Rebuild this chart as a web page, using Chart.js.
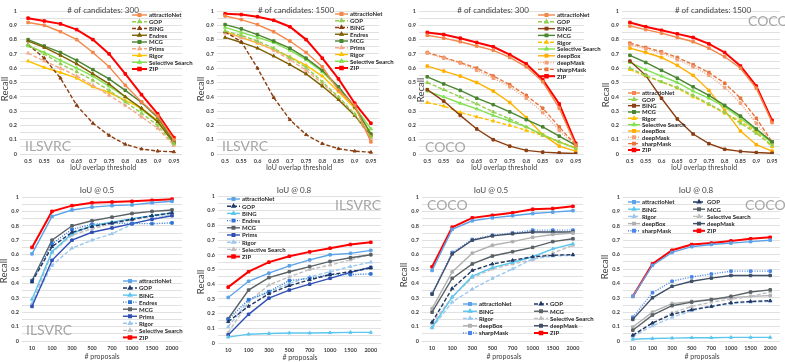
<!DOCTYPE html>
<html>
<head>
<meta charset="utf-8">
<script src="https://cdn.jsdelivr.net/npm/chart.js@4"></script>
<style>
html, body { margin: 0; padding: 0; background: #fff; }
#wrap { position: relative; width: 785px; height: 362px; overflow: hidden; }
#wrap canvas { position: absolute; left: 0; top: 0; }
</style>
</head>
<body>
<div id="wrap"></div>
<script>
// Categories
const iouThresholds = ['0.5', '0.55', '0.6', '0.65', '0.7', '0.75', '0.8', '0.85', '0.9', '0.95'];
const proposalCounts = ['10', '100', '300', '500', '700', '1000', '1500', '2000'];

// Series names (legend order)
const ilsNames = ['attractioNet', 'GOP', 'BING', 'Endres', 'MCG', 'Prims', 'Rigor', 'Selective Search', 'ZIP'];
const cocoNames = ['attractioNet', 'GOP', 'BING', 'MCG', 'Rigor', 'Selective Search', 'deepBox', 'deepMask', 'sharpMask', 'ZIP'];

// ILSVRC, recall vs IoU, 300 candidates
const ils300 = [
    [0.92, 0.90, 0.855, 0.80, 0.71, 0.61, 0.48, 0.365, 0.265, 0.10],
    [0.765, 0.70, 0.63, 0.575, 0.515, 0.445, 0.365, 0.285, 0.20, 0.07],
    [0.765, 0.67, 0.53, 0.34, 0.215, 0.13, 0.068, 0.035, 0.02, 0.015],
    [0.79, 0.745, 0.69, 0.63, 0.56, 0.49, 0.40, 0.32, 0.225, 0.075],
    [0.80, 0.755, 0.71, 0.655, 0.59, 0.525, 0.445, 0.36, 0.255, 0.085],
    [0.705, 0.65, 0.60, 0.545, 0.48, 0.41, 0.34, 0.26, 0.18, 0.06],
    [0.65, 0.605, 0.57, 0.53, 0.47, 0.43, 0.375, 0.32, 0.235, 0.085],
    [0.755, 0.71, 0.655, 0.60, 0.545, 0.475, 0.40, 0.31, 0.225, 0.095],
    [0.95, 0.93, 0.91, 0.87, 0.80, 0.70, 0.56, 0.415, 0.28, 0.115]
];
// ILSVRC, recall vs IoU, 1500 candidates
const ils1500 = [
    [0.965, 0.94, 0.905, 0.855, 0.79, 0.71, 0.61, 0.445, 0.34, 0.085],
    [0.86, 0.83, 0.79, 0.74, 0.675, 0.605, 0.505, 0.40, 0.28, 0.12],
    [0.855, 0.785, 0.60, 0.395, 0.24, 0.135, 0.072, 0.037, 0.02, 0.012],
    [0.815, 0.78, 0.74, 0.685, 0.625, 0.56, 0.475, 0.38, 0.27, 0.13],
    [0.905, 0.875, 0.835, 0.79, 0.74, 0.67, 0.585, 0.47, 0.33, 0.14],
    [0.845, 0.815, 0.78, 0.725, 0.66, 0.585, 0.495, 0.39, 0.27, 0.11],
    [0.855, 0.815, 0.775, 0.73, 0.68, 0.62, 0.545, 0.435, 0.32, 0.14],
    [0.885, 0.85, 0.815, 0.78, 0.725, 0.66, 0.575, 0.46, 0.33, 0.175],
    [0.98, 0.975, 0.96, 0.935, 0.89, 0.80, 0.67, 0.525, 0.355, 0.215]
];
// COCO, recall vs IoU, 300 candidates
const coco300 = [
    [0.83, 0.81, 0.785, 0.755, 0.725, 0.675, 0.61, 0.505, 0.32, 0.06],
    [0.50, 0.45, 0.40, 0.35, 0.295, 0.245, 0.19, 0.13, 0.085, 0.04],
    [0.45, 0.37, 0.27, 0.175, 0.10, 0.055, 0.025, 0.013, 0.007, 0.003],
    [0.54, 0.49, 0.445, 0.39, 0.345, 0.295, 0.24, 0.19, 0.125, 0.06],
    [0.36, 0.335, 0.29, 0.26, 0.23, 0.20, 0.165, 0.13, 0.085, 0.045],
    [0.44, 0.40, 0.355, 0.315, 0.27, 0.23, 0.19, 0.135, 0.085, 0.04],
    [0.615, 0.58, 0.545, 0.50, 0.44, 0.36, 0.255, 0.135, 0.055, 0.02],
    [0.705, 0.67, 0.635, 0.585, 0.53, 0.47, 0.39, 0.29, 0.165, 0.05],
    [0.71, 0.675, 0.64, 0.60, 0.545, 0.485, 0.41, 0.32, 0.19, 0.06],
    [0.85, 0.835, 0.81, 0.78, 0.75, 0.695, 0.63, 0.52, 0.35, 0.075]
];
// COCO, recall vs IoU, 1500 candidates
const coco1500 = [
    [0.895, 0.87, 0.845, 0.815, 0.785, 0.74, 0.68, 0.60, 0.46, 0.22],
    [0.60, 0.55, 0.505, 0.465, 0.41, 0.35, 0.29, 0.215, 0.145, 0.06],
    [0.65, 0.55, 0.39, 0.245, 0.14, 0.072, 0.033, 0.018, 0.01, 0.005],
    [0.69, 0.64, 0.585, 0.53, 0.47, 0.41, 0.34, 0.265, 0.175, 0.085],
    [0.59, 0.545, 0.505, 0.46, 0.40, 0.345, 0.285, 0.23, 0.155, 0.05],
    [0.64, 0.59, 0.545, 0.50, 0.44, 0.39, 0.33, 0.25, 0.165, 0.075],
    [0.74, 0.71, 0.675, 0.62, 0.55, 0.445, 0.305, 0.16, 0.065, 0.02],
    [0.765, 0.735, 0.705, 0.66, 0.61, 0.55, 0.465, 0.355, 0.215, 0.075],
    [0.775, 0.745, 0.715, 0.675, 0.625, 0.57, 0.495, 0.39, 0.25, 0.085],
    [0.92, 0.89, 0.865, 0.84, 0.815, 0.77, 0.71, 0.615, 0.475, 0.235]
];
// ILSVRC, recall vs # proposals, IoU 0.5
const ilsIou05 = [
    [0.605, 0.865, 0.91, 0.93, 0.94, 0.945, 0.96, 0.97],
    [0.41, 0.655, 0.755, 0.795, 0.82, 0.845, 0.87, 0.89],
    [0.29, 0.62, 0.745, 0.80, 0.825, 0.85, 0.87, 0.89],
    [0.415, 0.675, 0.775, 0.81, 0.82, 0.815, 0.815, 0.82],
    [0.42, 0.70, 0.80, 0.835, 0.86, 0.885, 0.90, 0.91],
    [0.24, 0.56, 0.70, 0.755, 0.785, 0.815, 0.845, 0.87],
    [0.26, 0.525, 0.645, 0.70, 0.745, 0.81, 0.85, 0.875],
    [0.255, 0.615, 0.735, 0.78, 0.815, 0.84, 0.865, 0.885],
    [0.65, 0.90, 0.94, 0.96, 0.965, 0.97, 0.977, 0.985]
];
// ILSVRC, recall vs # proposals, IoU 0.8
const ilsIou08 = [
    [0.31, 0.42, 0.475, 0.525, 0.565, 0.60, 0.61, 0.63],
    [0.145, 0.25, 0.335, 0.39, 0.43, 0.465, 0.485, 0.51],
    [0.04, 0.06, 0.065, 0.068, 0.068, 0.07, 0.072, 0.072],
    [0.16, 0.295, 0.35, 0.425, 0.44, 0.465, 0.465, 0.47],
    [0.165, 0.36, 0.445, 0.485, 0.52, 0.555, 0.58, 0.60],
    [0.055, 0.195, 0.305, 0.36, 0.40, 0.44, 0.48, 0.515],
    [0.11, 0.29, 0.345, 0.405, 0.45, 0.485, 0.52, 0.55],
    [0.07, 0.28, 0.395, 0.45, 0.50, 0.53, 0.565, 0.605],
    [0.38, 0.485, 0.55, 0.59, 0.62, 0.645, 0.67, 0.685]
];
// COCO, recall vs # proposals, IoU 0.5
const cocoIou05 = [
    [0.49, 0.775, 0.835, 0.855, 0.87, 0.885, 0.895, 0.905],
    [0.13, 0.365, 0.49, 0.535, 0.56, 0.585, 0.595, 0.60],
    [0.095, 0.305, 0.45, 0.51, 0.545, 0.585, 0.64, 0.675],
    [0.20, 0.435, 0.535, 0.59, 0.62, 0.65, 0.69, 0.71],
    [0.09, 0.27, 0.36, 0.435, 0.50, 0.57, 0.59, 0.595],
    [0.12, 0.305, 0.44, 0.50, 0.535, 0.565, 0.61, 0.665],
    [0.225, 0.48, 0.61, 0.665, 0.69, 0.72, 0.74, 0.75],
    [0.325, 0.605, 0.70, 0.73, 0.745, 0.757, 0.757, 0.757],
    [0.33, 0.615, 0.705, 0.735, 0.75, 0.77, 0.77, 0.77],
    [0.515, 0.79, 0.855, 0.873, 0.89, 0.915, 0.92, 0.935]
];
// COCO, recall vs # proposals, IoU 0.8
const cocoIou08 = [
    [0.31, 0.525, 0.615, 0.655, 0.67, 0.68, 0.69, 0.70],
    [0.04, 0.125, 0.185, 0.217, 0.24, 0.265, 0.275, 0.28],
    [0.012, 0.017, 0.02, 0.023, 0.023, 0.025, 0.025, 0.025],
    [0.075, 0.18, 0.245, 0.27, 0.287, 0.31, 0.34, 0.355],
    [0.03, 0.105, 0.165, 0.21, 0.24, 0.26, 0.27, 0.275],
    [0.04, 0.125, 0.195, 0.24, 0.27, 0.29, 0.31, 0.34],
    [0.097, 0.20, 0.26, 0.275, 0.29, 0.30, 0.31, 0.315],
    [0.15, 0.30, 0.38, 0.415, 0.437, 0.455, 0.455, 0.455],
    [0.165, 0.335, 0.415, 0.445, 0.465, 0.485, 0.485, 0.485],
    [0.31, 0.535, 0.63, 0.67, 0.68, 0.695, 0.71, 0.72]
];

// Line styles: [colour, dash, point style]
const DASH = [4, 2];
const DOT = [1, 1.5];
const warmIls = {
    'attractioNet': ['#F4874B', [], 'rect'],
    'GOP': ['#92D050', DASH, 'triangle'],
    'BING': ['#8B3E12', DASH, 'triangle'],
    'Endres': ['#7F6000', [], 'triangle'],
    'MCG': ['#4A8530', [], 'rect'],
    'Prims': ['#F6A98A', DASH, 'triangle'],
    'Rigor': ['#FFC000', [], 'triangle'],
    'Selective Search': ['#80E24E', [], 'triangle'],
    'ZIP': ['#FF0000', [], 'rect']
};
const warmCoco = {
    'attractioNet': ['#F4874B', [], 'rect'],
    'GOP': ['#92D050', DASH, 'triangle'],
    'BING': ['#8B3E12', [], 'rect'],
    'MCG': ['#4A8530', [], 'rect'],
    'Rigor': ['#FFC000', DASH, 'triangle'],
    'Selective Search': ['#80E24E', [], 'triangle'],
    'deepBox': ['#FFB000', [], 'rect'],
    'deepMask': ['#F4A07A', DOT, 'rect'],
    'sharpMask': ['#E8743B', DASH, 'rect'],
    'ZIP': ['#FF0000', [], 'rect']
};
const coolIls = {
    'attractioNet': ['#5BA3E8', [], 'rect'],
    'GOP': ['#203864', DASH, 'triangle'],
    'BING': ['#5CC6EE', [], 'triangle'],
    'Endres': ['#2E75D6', DOT, 'rect'],
    'MCG': ['#5A6266', [], 'rect'],
    'Prims': ['#2F4FB4', [], 'rect'],
    'Rigor': ['#9DC8EE', DASH, 'triangle'],
    'Selective Search': ['#BFBFBF', DASH, 'triangle'],
    'ZIP': ['#FF0000', [], 'rect']
};
const coolCoco = {
    'attractioNet': ['#5BA3E8', [], 'rect'],
    'GOP': ['#203864', DASH, 'triangle'],
    'BING': ['#5CC6EE', [], 'triangle'],
    'MCG': ['#5A6266', [], 'rect'],
    'Rigor': ['#9DC8EE', DASH, 'triangle'],
    'Selective Search': ['#BFBFBF', DASH, 'triangle'],
    'deepBox': ['#B0B0B0', [], 'rect'],
    'deepMask': ['#3F4F66', [], 'rect'],
    'sharpMask': ['#4A86E8', DOT, 'rect'],
    'ZIP': ['#FF0000', [], 'rect']
};

const FONT = 'Lato, "Open Sans", sans-serif';
const TEXT = '#404040';
const Y_AXIS_W = 18;
const X_AXIS_H = 14;

// Panel layout (page coordinates)
const panels = [
    { labels: iouThresholds, names: ilsNames, values: ils300, style: warmIls, area: [20, 11, 182, 154],
      title: ['# of candidates: 300', 103, 10], xTitle: ['IoU overlap threshold', 103, 168], yTitle: [5, 89],
      mark: ['ILSVRC', 25, 146], legend: { x: 132, y: 15, step: 6.75, w: 15, cols: 1, colW: 0 } },
    { labels: iouThresholds, names: ilsNames, values: ils1500, style: warmIls, area: [217, 11, 379, 154],
      title: ['# of candidates: 1500', 296, 10], xTitle: ['IoU overlap threshold', 299, 168], yTitle: [201, 89],
      mark: ['ILSVRC', 222, 146], legend: { x: 335, y: 14, step: 6.75, w: 13, cols: 1, colW: 0 } },
    { labels: iouThresholds, names: cocoNames, values: coco300, style: warmCoco, area: [419, 11, 584, 154],
      title: ['# of candidates: 300', 493, 10], xTitle: ['IoU overlap threshold', 504, 168], yTitle: [421, 90],
      mark: ['COCO', 425, 147], legend: { x: 538, y: 15, step: 6.8, w: 17, cols: 1, colW: 0 } },
    { labels: iouThresholds, names: cocoNames, values: coco1500, style: warmCoco, area: [622, 11, 782, 154],
      title: ['# of candidates: 1500', 713, 10], xTitle: ['IoU overlap threshold', 704, 168], yTitle: [606, 95],
      mark: ['COCO', 748, 21], legend: { x: 628, y: 93, step: 6.33, w: 12, cols: 1, colW: 0 } },
    { labels: proposalCounts, names: ilsNames, values: ilsIou05, style: coolIls, area: [22, 197, 182, 341],
      title: ['IoU @ 0.5', 97, 190], xTitle: ['# proposals', 102, 357], yTitle: [4, 271],
      mark: ['ILSVRC', 26, 330], legend: { x: 123, y: 281, step: 7.05, w: 14, cols: 1, colW: 0 } },
    { labels: proposalCounts, names: ilsNames, values: ilsIou08, style: coolIls, area: [218, 196, 381, 343],
      title: ['IoU @ 0.8', 294, 190], xTitle: ['# proposals', 300, 358], yTitle: [201, 282],
      mark: ['ILSVRC', 335, 205], legend: { x: 227, y: 199, step: 7.2, w: 13, cols: 1, colW: 0 } },
    { labels: proposalCounts, names: cocoNames, values: cocoIou05, style: coolCoco, area: [422, 197, 583, 341],
      title: ['IoU @ 0.5', 491, 190], xTitle: ['# proposals', 504, 357], yTitle: [404, 275],
      mark: ['COCO', 427, 205], legend: { x: 463, y: 304, step: 7.25, w: 14, cols: 2, colW: 71 } },
    { labels: proposalCounts, names: cocoNames, values: cocoIou08, style: coolCoco, area: [623, 197, 783, 341],
      title: ['IoU @ 0.8', 696, 190], xTitle: ['# proposals', 702, 357], yTitle: [605, 267],
      mark: ['COCO', 745, 205], legend: { x: 628, y: 202, step: 7.2, w: 12, cols: 2, colW: 65 } }
];

// Titles, watermark and in-plot legend
function decorPlugin(p) {
    return {
        id: 'decor',
        afterDraw(chart) {
            const ctx = chart.ctx;
            ctx.save();
            ctx.fillStyle = TEXT;
            ctx.textAlign = 'center';
            ctx.textBaseline = 'middle';
            ctx.font = '8px ' + FONT;
            ctx.fillText(p.title[0], p.title[1], p.title[2]);
            ctx.font = '7px ' + FONT;
            ctx.fillText(p.xTitle[0], p.xTitle[1], p.xTitle[2]);

            ctx.save();
            ctx.translate(p.yTitle[0], p.yTitle[1]);
            ctx.rotate(-Math.PI / 2);
            ctx.font = '9.5px ' + FONT;
            ctx.fillText('Recall', 0, 0);
            ctx.restore();

            ctx.textAlign = 'left';
            ctx.fillStyle = '#A6A6A6';
            ctx.font = '14px ' + FONT;
            ctx.fillText(p.mark[0], p.mark[1], p.mark[2]);

            const lg = p.legend;
            ctx.font = 'bold 6px ' + FONT;
            chart.data.datasets.forEach((ds, i) => {
                const col = i % lg.cols;
                const row = Math.floor(i / lg.cols);
                const x0 = lg.x + col * lg.colW;
                const y = lg.y + row * lg.step;
                ctx.strokeStyle = ds.borderColor;
                ctx.fillStyle = ds.borderColor;
                ctx.lineWidth = ds.borderWidth;
                ctx.setLineDash(ds.borderDash);
                ctx.beginPath();
                ctx.moveTo(x0, y);
                ctx.lineTo(x0 + lg.w, y);
                ctx.stroke();
                ctx.setLineDash([]);
                Chart.helpers.drawPoint(ctx, { pointStyle: ds.pointStyle, radius: 1.8, rotation: 0, borderWidth: 1 }, x0 + lg.w / 2, y);
                ctx.fillStyle = '#262626';
                ctx.fillText(ds.label, x0 + lg.w + 2, y + 0.5);
            });
            ctx.restore();
        }
    };
}

const wrap = document.getElementById('wrap');
panels.forEach(p => {
    const canvas = document.createElement('canvas');
    canvas.width = 785;
    canvas.height = 362;
    wrap.appendChild(canvas);

    const datasets = p.names.map((name, i) => {
        const st = p.style[name];
        return {
            label: name,
            data: p.values[i],
            borderColor: st[0],
            backgroundColor: st[0],
            borderDash: st[1],
            pointStyle: st[2],
            borderWidth: name === 'ZIP' ? 2 : 1.4,
            pointRadius: 1.8,
            pointBorderWidth: 1,
            tension: 0,
            fill: false
        };
    });

    new Chart(canvas, {
        type: 'line',
        data: { labels: p.labels, datasets: datasets },
        options: {
            responsive: false,
            animation: false,
            devicePixelRatio: 1,
            layout: {
                padding: {
                    left: p.area[0] - Y_AXIS_W,
                    top: p.area[1],
                    right: 785 - p.area[2],
                    bottom: 362 - p.area[3] - X_AXIS_H
                }
            },
            plugins: {
                legend: { display: false },
                title: { display: false },
                tooltip: { enabled: false }
            },
            scales: {
                x: {
                    type: 'category',
                    offset: true,
                    grid: { display: false, drawTicks: false },
                    border: { display: false },
                    ticks: {
                        autoSkip: false,
                        maxRotation: 0,
                        padding: 4,
                        color: TEXT,
                        font: { family: FONT, size: 5.5, weight: 'bold' }
                    },
                    afterFit(scale) { scale.height = X_AXIS_H; }
                },
                y: {
                    min: 0,
                    max: 1,
                    grid: { color: '#D9D9D9', lineWidth: 0.8, drawTicks: false },
                    border: { display: false },
                    ticks: {
                        stepSize: 0.05,
                        autoSkip: false,
                        padding: 3,
                        color: TEXT,
                        font: { family: FONT, size: 5.5, weight: 'bold' },
                        callback(v) {
                            const k = Math.round(v * 20);
                            if (k % 2 !== 0) return '';
                            if (k === 0) return '0';
                            if (k === 20) return '1';
                            return (k / 20).toFixed(1);
                        }
                    },
                    afterFit(scale) { scale.width = Y_AXIS_W; }
                }
            }
        },
        plugins: [decorPlugin(p)]
    });
});
</script>
</body>
</html>
